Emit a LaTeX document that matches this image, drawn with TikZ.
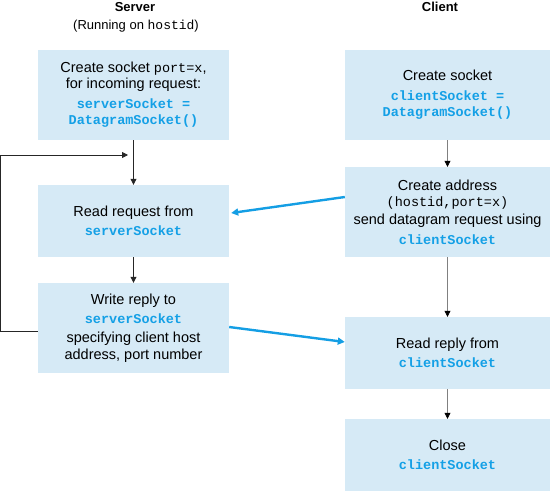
\documentclass[tikz,border=0pt]{standalone}
\usepackage{fontspec}
\setmainfont{Liberation Sans}
\setmonofont{Liberation Mono}
\usetikzlibrary{arrows.meta}
\definecolor{boxfill}{RGB}{214,234,246}
\definecolor{codeblue}{RGB}{20,160,230}
\definecolor{arrowblue}{RGB}{20,158,228}
\newcommand{\code}[1]{{\fontsize{13.5}{18}\ttfamily\bfseries\color{codeblue}#1}}
\newcommand{\plaincode}[1]{{\fontsize{13.5}{18}\ttfamily #1}}
\begin{document}
\begin{tikzpicture}[x=1pt,y=-1pt,
  box/.style={fill=boxfill, draw=none, inner sep=0pt, align=center, font=\fontsize{14.5}{18}\selectfont},
  sbox/.style={box, minimum width=191pt},
  cbox/.style={box, minimum width=205pt},
  title/.style={font=\fontsize{13}{16}\selectfont, inner sep=0pt},
  flow/.style={draw=black!85, line width=0.8pt, -{Triangle[width=6pt,length=6pt]}},
  cflow/.style={draw=black!50, line width=0.6pt, -{Triangle[width=6pt,length=6pt,color=black]}},
  msg/.style={draw=arrowblue, line width=2.4pt, -{Triangle[width=7pt,length=7pt]}}]
\useasboundingbox (0,0) rectangle (551,492);

\node[title, font=\bfseries\fontsize{13}{16}\selectfont] (srv) at (135,7) {Server};
\node[title] (run) at (136,26) {(Running on {\fontsize{13}{16}\ttfamily hostid})};
\node[title, font=\bfseries\fontsize{13}{16}\selectfont] (cli) at (440,7) {Client};

\node[sbox, minimum height=90pt] (s1) at (133.5,95)
  {Create socket \plaincode{port=x},\\[-2pt]for incoming request:\\[2pt]\code{serverSocket =}\\[-2pt]\code{DatagramSocket()}};
\node[sbox, minimum height=72pt] (s2) at (133.5,221)
  {Read request from\\[1pt]\code{serverSocket}};
\node[sbox, minimum height=90pt] (s3) at (133.5,328)
  {Write reply to\\[1pt]\code{serverSocket}\\[1pt]specifying client host\\[-1pt]address, port number};

\node[cbox, minimum height=90pt] (c1) at (447.5,95)
  {Create socket\\[2pt]\code{clientSocket =}\\[-2pt]\code{DatagramSocket()}};
\node[cbox, minimum height=90pt] (c2) at (447.5,212)
  {Create address\\[-2pt]\plaincode{(hostid,port=x)}\\send datagram request using\\[2pt]\code{clientSocket}};
\node[cbox, minimum height=72pt] (c3) at (447.5,353)
  {Read reply from\\[1pt]\code{clientSocket}};
\node[cbox, minimum height=72pt] (c4) at (447.5,455)
  {Close\\[1pt]\code{clientSocket}};

\draw[flow] (s1.south) -- (s2.north);
\draw[flow] (s2.south) -- (s3.north);
\coordinate (loopend) at (128,155);
\draw[flow] ([yshift=-3pt]s3.west) -- ++(-37,0) |- (loopend);

\draw[cflow] (c1.south) -- (c2.north);
\draw[cflow] (c2.south) -- (c3.north);
\draw[cflow] (c3.south) -- (c4.north);

\draw[msg] ([yshift=15pt]c2.west) -- ([xshift=2pt,yshift=8pt]s2.east);
\draw[msg] ([yshift=1pt]s3.east) -- ([yshift=11pt]c3.west);
\end{tikzpicture}
\end{document}
